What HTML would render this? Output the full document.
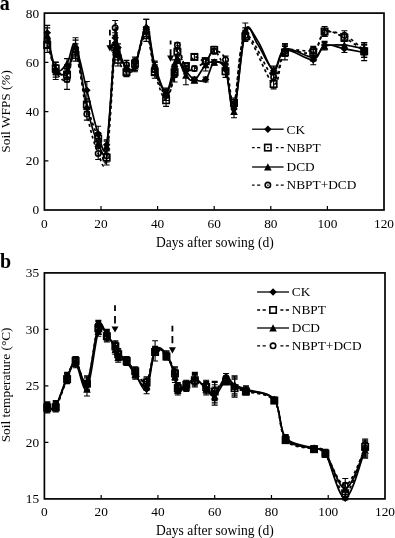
<!DOCTYPE html>
<html><head><meta charset="utf-8"><title>Figure</title>
<style>
html,body{margin:0;padding:0;background:#fff;}
svg{display:block;font-family:"Liberation Serif","Times New Roman",serif;fill:#000;}
</style></head><body>
<svg width="395" height="538" viewBox="0 0 395 538">
<rect x="0" y="0" width="395" height="538" fill="#fff"/>
<rect x="44.40" y="13.10" width="339.60" height="196.90" fill="none" stroke="#000" stroke-width="1.7"/>
<text x="44.40" y="228.00" text-anchor="middle" font-size="13.33">0</text>
<text x="101.00" y="228.00" text-anchor="middle" font-size="13.33">20</text>
<text x="157.60" y="228.00" text-anchor="middle" font-size="13.33">40</text>
<text x="214.20" y="228.00" text-anchor="middle" font-size="13.33">60</text>
<text x="270.80" y="228.00" text-anchor="middle" font-size="13.33">80</text>
<text x="327.40" y="228.00" text-anchor="middle" font-size="13.33">100</text>
<text x="384.00" y="228.00" text-anchor="middle" font-size="13.33">120</text>
<text x="39.10" y="214.40" text-anchor="end" font-size="13.33">0</text>
<text x="39.10" y="165.18" text-anchor="end" font-size="13.33">20</text>
<text x="39.10" y="115.95" text-anchor="end" font-size="13.33">40</text>
<text x="39.10" y="66.72" text-anchor="end" font-size="13.33">60</text>
<text x="39.10" y="17.50" text-anchor="end" font-size="13.33">80</text>
<path d="M101.00,210.00V206.00M157.60,210.00V206.00M214.20,210.00V206.00M270.80,210.00V206.00M327.40,210.00V206.00M44.40,160.78H48.40M44.40,111.55H48.40M44.40,62.32H48.40" stroke="#000" stroke-width="1.2" fill="none"/>
<path d="M47.23,32.79 C48.64,38.94 52.42,63.15 55.72,69.71 C59.02,76.27 63.74,75.86 67.04,72.17 C70.34,68.48 72.23,44.56 75.53,47.56 C78.83,50.55 83.08,75.78 86.85,90.14 C90.62,104.49 94.87,124.59 98.17,133.70 C101.47,142.81 103.83,160.78 106.66,144.78 C109.49,128.78 113.26,53.92 115.15,37.71 C117.04,21.51 116.09,42.22 117.98,47.56 C119.87,52.89 123.64,66.43 126.47,69.71 C129.30,72.99 131.66,74.22 134.96,67.25 C138.26,60.27 142.98,27.87 146.28,27.87 C149.58,27.87 151.47,56.38 154.77,67.25 C158.07,78.12 162.79,92.68 166.09,93.09 C169.39,93.50 172.69,75.25 174.58,69.71 C176.47,64.17 175.52,59.66 177.41,59.86 C179.30,60.07 183.07,67.66 185.90,70.94 C188.73,74.22 191.09,78.12 194.39,79.55 C197.69,80.99 202.41,82.43 205.71,79.55 C209.01,76.68 210.90,63.97 214.20,62.32 C217.50,60.68 222.22,61.91 225.52,69.71 C228.82,77.50 230.71,115.24 234.01,109.09 C237.31,102.94 241.37,44.15 245.33,32.79 C249.29,21.43 253.07,34.59 257.78,40.91 C262.50,47.23 269.10,69.18 273.63,70.69 C278.16,72.21 278.35,51.82 284.95,50.02 C291.55,48.21 306.65,60.68 313.25,59.86 C319.85,59.04 319.38,46.94 324.57,45.10 C329.76,43.25 337.78,47.56 344.38,48.79 C350.98,50.02 360.89,51.86 364.19,52.48" fill="none" stroke="#000" stroke-width="1.7"/>
<path d="M47.23,25.41V40.17M44.23,25.41H50.23M44.23,40.17H50.23M55.72,62.32V77.09M52.72,62.32H58.72M52.72,77.09H58.72M67.04,64.79V79.55M64.04,64.79H70.04M64.04,79.55H70.04M75.53,40.17V54.94M72.53,40.17H78.53M72.53,54.94H78.53M86.85,81.52V98.75M83.85,81.52H89.85M83.85,98.75H89.85M98.17,126.32V141.09M95.17,126.32H101.17M95.17,141.09H101.17M106.66,139.85V149.70M103.66,139.85H109.66M103.66,149.70H109.66M115.15,32.79V42.63M112.15,32.79H118.15M112.15,42.63H118.15M117.98,43.87V51.25M114.98,43.87H120.98M114.98,51.25H120.98M126.47,65.28V74.14M123.47,65.28H129.47M123.47,74.14H129.47M134.96,62.82V71.68M131.96,62.82H137.96M131.96,71.68H137.96M146.28,19.25V36.48M143.28,19.25H149.28M143.28,36.48H149.28M154.77,62.33V72.17M151.77,62.33H157.77M151.77,72.17H157.77M166.09,89.40V96.78M163.09,89.40H169.09M163.09,96.78H169.09M174.58,64.79V74.63M171.58,64.79H177.58M171.58,74.63H177.58M177.41,56.17V63.56M174.41,56.17H180.41M174.41,63.56H180.41M185.90,67.99V73.89M182.90,67.99H188.90M182.90,73.89H188.90M194.39,77.09V82.01M191.39,77.09H197.39M191.39,82.01H197.39M205.71,77.09V82.01M202.71,77.09H208.71M202.71,82.01H208.71M214.20,59.86V64.79M211.20,59.86H217.20M211.20,64.79H217.20M225.52,64.79V74.63M222.52,64.79H228.52M222.52,74.63H228.52M234.01,104.17V114.01M231.01,104.17H237.01M231.01,114.01H237.01M245.33,27.87V37.71M242.33,27.87H248.33M242.33,37.71H248.33M273.63,67.00V74.39M270.63,67.00H276.63M270.63,74.39H276.63M284.95,43.87V56.17M281.95,43.87H287.95M281.95,56.17H287.95M313.25,54.94V64.79M310.25,54.94H316.25M310.25,64.79H316.25M324.57,41.40V48.79M321.57,41.40H327.57M321.57,48.79H327.57M344.38,45.10V52.48M341.38,45.10H347.38M341.38,52.48H347.38M364.19,44.36V60.60M361.19,44.36H367.19M361.19,60.60H367.19" fill="none" stroke="#000" stroke-width="1.1"/>
<path d="M47.23,29.04 L50.98,32.79 L47.23,36.54 L43.48,32.79 Z" fill="#000"/>
<path d="M55.72,65.96 L59.47,69.71 L55.72,73.46 L51.97,69.71 Z" fill="#000"/>
<path d="M67.04,68.42 L70.79,72.17 L67.04,75.92 L63.29,72.17 Z" fill="#000"/>
<path d="M75.53,43.81 L79.28,47.56 L75.53,51.31 L71.78,47.56 Z" fill="#000"/>
<path d="M86.85,86.39 L90.60,90.14 L86.85,93.89 L83.10,90.14 Z" fill="#000"/>
<path d="M98.17,129.95 L101.92,133.70 L98.17,137.45 L94.42,133.70 Z" fill="#000"/>
<path d="M106.66,141.03 L110.41,144.78 L106.66,148.53 L102.91,144.78 Z" fill="#000"/>
<path d="M115.15,33.96 L118.90,37.71 L115.15,41.46 L111.40,37.71 Z" fill="#000"/>
<path d="M117.98,43.81 L121.73,47.56 L117.98,51.31 L114.23,47.56 Z" fill="#000"/>
<path d="M126.47,65.96 L130.22,69.71 L126.47,73.46 L122.72,69.71 Z" fill="#000"/>
<path d="M134.96,63.50 L138.71,67.25 L134.96,71.00 L131.21,67.25 Z" fill="#000"/>
<path d="M146.28,24.12 L150.03,27.87 L146.28,31.62 L142.53,27.87 Z" fill="#000"/>
<path d="M154.77,63.50 L158.52,67.25 L154.77,71.00 L151.02,67.25 Z" fill="#000"/>
<path d="M166.09,89.34 L169.84,93.09 L166.09,96.84 L162.34,93.09 Z" fill="#000"/>
<path d="M174.58,65.96 L178.33,69.71 L174.58,73.46 L170.83,69.71 Z" fill="#000"/>
<path d="M177.41,56.11 L181.16,59.86 L177.41,63.61 L173.66,59.86 Z" fill="#000"/>
<path d="M185.90,67.19 L189.65,70.94 L185.90,74.69 L182.15,70.94 Z" fill="#000"/>
<path d="M194.39,75.80 L198.14,79.55 L194.39,83.30 L190.64,79.55 Z" fill="#000"/>
<path d="M205.71,75.80 L209.46,79.55 L205.71,83.30 L201.96,79.55 Z" fill="#000"/>
<path d="M214.20,58.57 L217.95,62.32 L214.20,66.07 L210.45,62.32 Z" fill="#000"/>
<path d="M225.52,65.96 L229.27,69.71 L225.52,73.46 L221.77,69.71 Z" fill="#000"/>
<path d="M234.01,105.34 L237.76,109.09 L234.01,112.84 L230.26,109.09 Z" fill="#000"/>
<path d="M245.33,29.04 L249.08,32.79 L245.33,36.54 L241.58,32.79 Z" fill="#000"/>
<path d="M273.63,66.94 L277.38,70.69 L273.63,74.44 L269.88,70.69 Z" fill="#000"/>
<path d="M284.95,46.27 L288.70,50.02 L284.95,53.77 L281.20,50.02 Z" fill="#000"/>
<path d="M313.25,56.11 L317.00,59.86 L313.25,63.61 L309.50,59.86 Z" fill="#000"/>
<path d="M324.57,41.35 L328.32,45.10 L324.57,48.85 L320.82,45.10 Z" fill="#000"/>
<path d="M344.38,45.04 L348.13,48.79 L344.38,52.54 L340.63,48.79 Z" fill="#000"/>
<path d="M364.19,48.73 L367.94,52.48 L364.19,56.23 L360.44,52.48 Z" fill="#000"/>
<path d="M47.23,45.10 C48.64,48.99 52.42,63.56 55.72,68.48 C59.02,73.40 63.74,76.89 67.04,74.63 C70.34,72.38 72.23,49.94 75.53,54.94 C78.83,59.95 83.08,90.71 86.85,104.66 C90.62,118.61 94.87,129.80 98.17,138.62 C101.47,147.44 103.83,172.75 106.66,157.58 C109.49,142.40 113.26,63.84 115.15,47.56 C117.04,31.27 116.09,55.76 117.98,59.86 C119.87,63.97 123.64,71.55 126.47,72.17 C129.30,72.79 131.66,69.71 134.96,63.56 C138.26,57.40 142.98,33.82 146.28,35.25 C149.58,36.69 151.47,61.34 154.77,72.17 C158.07,83.00 162.79,100.23 166.09,100.23 C169.39,100.23 172.69,80.25 174.58,72.17 C176.47,64.09 175.52,52.77 177.41,51.74 C179.30,50.72 183.07,65.16 185.90,66.02 C188.73,66.88 191.09,57.73 194.39,56.91 C197.69,56.09 202.41,62.24 205.71,61.09 C209.01,59.95 210.90,48.34 214.20,50.02 C217.50,51.70 222.22,62.37 225.52,71.19 C228.82,80.00 230.71,108.72 234.01,102.94 C237.31,97.15 238.73,39.64 245.33,36.48 C251.93,33.32 267.03,81.32 273.63,83.98 C280.23,86.65 278.35,57.73 284.95,52.48 C291.55,47.23 306.65,55.97 313.25,52.48 C319.85,48.99 319.38,34.02 324.57,31.56 C329.76,29.10 337.78,34.43 344.38,37.71 C350.98,40.99 360.89,48.99 364.19,51.25" fill="none" stroke="#000" stroke-width="1.7" stroke-dasharray="3,3"/>
<path d="M47.23,37.71V52.48M44.23,37.71H50.23M44.23,52.48H50.23M55.72,62.32V74.63M52.72,62.32H58.72M52.72,74.63H58.72M67.04,67.25V82.02M64.04,67.25H70.04M64.04,82.02H70.04M75.53,48.79V61.09M72.53,48.79H78.53M72.53,61.09H78.53M86.85,99.74V109.58M83.85,99.74H89.85M83.85,109.58H89.85M98.17,132.47V144.78M95.17,132.47H101.17M95.17,144.78H101.17M106.66,150.19V164.96M103.66,150.19H109.66M103.66,164.96H109.66M115.15,42.63V52.48M112.15,42.63H118.15M112.15,52.48H118.15M117.98,53.71V66.02M114.98,53.71H120.98M114.98,66.02H120.98M126.47,67.74V76.60M123.47,67.74H129.47M123.47,76.60H129.47M134.96,59.13V67.99M131.96,59.13H137.96M131.96,67.99H137.96M146.28,29.10V41.40M143.28,29.10H149.28M143.28,41.40H149.28M154.77,66.02V78.32M151.77,66.02H157.77M151.77,78.32H157.77M166.09,94.08V106.38M163.09,94.08H169.09M163.09,106.38H169.09M174.58,67.25V77.09M171.58,67.25H177.58M171.58,77.09H177.58M177.41,49.28V54.20M174.41,49.28H180.41M174.41,54.20H180.41M185.90,63.56V68.48M182.90,63.56H188.90M182.90,68.48H188.90M194.39,54.45V59.37M191.39,54.45H197.39M191.39,59.37H197.39M205.71,58.63V63.56M202.71,58.63H208.71M202.71,63.56H208.71M214.20,46.33V53.71M211.20,46.33H217.20M211.20,53.71H217.20M225.52,65.03V77.34M222.52,65.03H228.52M222.52,77.34H228.52M234.01,98.01V107.86M231.01,98.01H237.01M231.01,107.86H237.01M245.33,31.56V41.40M242.33,31.56H248.33M242.33,41.40H248.33M273.63,79.06V88.91M270.63,79.06H276.63M270.63,88.91H276.63M284.95,45.10V59.86M281.95,45.10H287.95M281.95,59.86H287.95M313.25,47.56V57.40M310.25,47.56H316.25M310.25,57.40H316.25M324.57,26.64V36.48M321.57,26.64H327.57M321.57,36.48H327.57M344.38,34.02V41.40M341.38,34.02H347.38M341.38,41.40H347.38M364.19,45.10V57.40M361.19,45.10H367.19M361.19,57.40H367.19" fill="none" stroke="#000" stroke-width="1.1"/>
<rect x="44.03" y="41.90" width="6.40" height="6.40" fill="none" stroke="#000" stroke-width="1.6"/>
<rect x="52.52" y="65.28" width="6.40" height="6.40" fill="none" stroke="#000" stroke-width="1.6"/>
<rect x="63.84" y="71.43" width="6.40" height="6.40" fill="none" stroke="#000" stroke-width="1.6"/>
<rect x="72.33" y="51.74" width="6.40" height="6.40" fill="none" stroke="#000" stroke-width="1.6"/>
<rect x="83.65" y="101.46" width="6.40" height="6.40" fill="none" stroke="#000" stroke-width="1.6"/>
<rect x="94.97" y="135.42" width="6.40" height="6.40" fill="none" stroke="#000" stroke-width="1.6"/>
<rect x="103.46" y="154.38" width="6.40" height="6.40" fill="none" stroke="#000" stroke-width="1.6"/>
<rect x="111.95" y="44.36" width="6.40" height="6.40" fill="none" stroke="#000" stroke-width="1.6"/>
<rect x="114.78" y="56.66" width="6.40" height="6.40" fill="none" stroke="#000" stroke-width="1.6"/>
<rect x="123.27" y="68.97" width="6.40" height="6.40" fill="none" stroke="#000" stroke-width="1.6"/>
<rect x="131.76" y="60.36" width="6.40" height="6.40" fill="none" stroke="#000" stroke-width="1.6"/>
<rect x="143.08" y="32.05" width="6.40" height="6.40" fill="none" stroke="#000" stroke-width="1.6"/>
<rect x="151.57" y="68.97" width="6.40" height="6.40" fill="none" stroke="#000" stroke-width="1.6"/>
<rect x="162.89" y="97.03" width="6.40" height="6.40" fill="none" stroke="#000" stroke-width="1.6"/>
<rect x="171.38" y="68.97" width="6.40" height="6.40" fill="none" stroke="#000" stroke-width="1.6"/>
<rect x="174.21" y="48.54" width="6.40" height="6.40" fill="none" stroke="#000" stroke-width="1.6"/>
<rect x="182.70" y="62.82" width="6.40" height="6.40" fill="none" stroke="#000" stroke-width="1.6"/>
<rect x="191.19" y="53.71" width="6.40" height="6.40" fill="none" stroke="#000" stroke-width="1.6"/>
<rect x="202.51" y="57.89" width="6.40" height="6.40" fill="none" stroke="#000" stroke-width="1.6"/>
<rect x="211.00" y="46.82" width="6.40" height="6.40" fill="none" stroke="#000" stroke-width="1.6"/>
<rect x="222.32" y="67.99" width="6.40" height="6.40" fill="none" stroke="#000" stroke-width="1.6"/>
<rect x="230.81" y="99.74" width="6.40" height="6.40" fill="none" stroke="#000" stroke-width="1.6"/>
<rect x="242.13" y="33.28" width="6.40" height="6.40" fill="none" stroke="#000" stroke-width="1.6"/>
<rect x="270.43" y="80.78" width="6.40" height="6.40" fill="none" stroke="#000" stroke-width="1.6"/>
<rect x="281.75" y="49.28" width="6.40" height="6.40" fill="none" stroke="#000" stroke-width="1.6"/>
<rect x="310.05" y="49.28" width="6.40" height="6.40" fill="none" stroke="#000" stroke-width="1.6"/>
<rect x="321.37" y="28.36" width="6.40" height="6.40" fill="none" stroke="#000" stroke-width="1.6"/>
<rect x="341.18" y="34.51" width="6.40" height="6.40" fill="none" stroke="#000" stroke-width="1.6"/>
<rect x="360.99" y="48.05" width="6.40" height="6.40" fill="none" stroke="#000" stroke-width="1.6"/>
<path d="M47.23,35.25 C48.64,40.99 52.42,64.99 55.72,69.71 C59.02,74.43 63.74,67.66 67.04,63.56 C70.34,59.45 72.23,37.92 75.53,45.10 C78.83,52.27 83.08,90.22 86.85,106.63 C90.62,123.04 94.87,136.98 98.17,143.55 C101.47,150.11 103.83,162.83 106.66,146.01 C109.49,129.19 113.26,58.22 115.15,42.63 C117.04,27.05 116.09,48.38 117.98,52.48 C119.87,56.58 123.64,64.99 126.47,67.25 C129.30,69.50 131.66,72.79 134.96,66.02 C138.26,59.25 142.98,26.84 146.28,26.64 C149.58,26.43 151.47,53.92 154.77,64.79 C158.07,75.66 162.79,92.07 166.09,91.86 C169.39,91.65 172.69,69.13 174.58,63.56 C176.47,57.98 175.52,56.42 177.41,58.39 C179.30,60.36 183.07,71.72 185.90,75.37 C188.73,79.02 191.09,82.06 194.39,80.29 C197.69,78.53 202.41,67.78 205.71,64.79 C209.01,61.79 210.90,61.91 214.20,62.32 C217.50,62.74 222.22,59.04 225.52,67.25 C228.82,75.45 230.71,117.70 234.01,111.55 C237.31,105.40 241.37,41.49 245.33,30.33 C249.29,19.17 253.07,38.04 257.78,44.60 C262.50,51.17 269.10,69.01 273.63,69.71 C278.16,70.41 278.35,50.84 284.95,48.79 C291.55,46.74 306.65,57.81 313.25,57.40 C319.85,56.99 319.38,48.38 324.57,46.33 C329.76,44.28 337.78,44.69 344.38,45.10 C350.98,45.51 360.89,48.17 364.19,48.79" fill="none" stroke="#000" stroke-width="1.7"/>
<path d="M47.23,27.87V42.63M44.23,27.87H50.23M44.23,42.63H50.23M55.72,64.79V74.63M52.72,64.79H58.72M52.72,74.63H58.72M67.04,58.63V68.48M64.04,58.63H70.04M64.04,68.48H70.04M75.53,37.71V52.48M72.53,37.71H78.53M72.53,52.48H78.53M86.85,101.70V111.55M83.85,101.70H89.85M83.85,111.55H89.85M98.17,138.62V148.47M95.17,138.62H101.17M95.17,148.47H101.17M106.66,141.08V150.93M103.66,141.08H109.66M103.66,150.93H109.66M115.15,37.71V47.56M112.15,37.71H118.15M112.15,47.56H118.15M117.98,48.79V56.17M114.98,48.79H120.98M114.98,56.17H120.98M126.47,62.82V71.68M123.47,62.82H129.47M123.47,71.68H129.47M134.96,61.59V70.45M131.96,61.59H137.96M131.96,70.45H137.96M146.28,19.25V34.02M143.28,19.25H149.28M143.28,34.02H149.28M154.77,61.09V68.48M151.77,61.09H157.77M151.77,68.48H157.77M166.09,88.17V95.55M163.09,88.17H169.09M163.09,95.55H169.09M174.58,59.86V67.25M171.58,59.86H177.58M171.58,67.25H177.58M177.41,54.70V62.08M174.41,54.70H180.41M174.41,62.08H180.41M185.90,66.02V84.72M182.90,66.02H188.90M182.90,84.72H188.90M194.39,77.83V82.75M191.39,77.83H197.39M191.39,82.75H197.39M205.71,58.63V70.94M202.71,58.63H208.71M202.71,70.94H208.71M214.20,59.86V64.79M211.20,59.86H217.20M211.20,64.79H217.20M225.52,64.79V69.71M222.52,64.79H228.52M222.52,69.71H228.52M234.01,105.40V117.70M231.01,105.40H237.01M231.01,117.70H237.01M245.33,22.94V37.71M242.33,22.94H248.33M242.33,37.71H248.33M273.63,66.02V73.40M270.63,66.02H276.63M270.63,73.40H276.63M284.95,43.87V53.71M281.95,43.87H287.95M281.95,53.71H287.95M313.25,53.71V61.09M310.25,53.71H316.25M310.25,61.09H316.25M324.57,42.63V50.02M321.57,42.63H327.57M321.57,50.02H327.57M344.38,41.40V48.79M341.38,41.40H347.38M341.38,48.79H347.38M364.19,42.63V54.94M361.19,42.63H367.19M361.19,54.94H367.19" fill="none" stroke="#000" stroke-width="1.1"/>
<path d="M47.23,31.45 L51.03,38.67 L43.43,38.67 Z" fill="#000"/>
<path d="M55.72,65.91 L59.52,73.13 L51.92,73.13 Z" fill="#000"/>
<path d="M67.04,59.76 L70.84,66.98 L63.24,66.98 Z" fill="#000"/>
<path d="M75.53,41.30 L79.33,48.52 L71.73,48.52 Z" fill="#000"/>
<path d="M86.85,102.83 L90.65,110.05 L83.05,110.05 Z" fill="#000"/>
<path d="M98.17,139.75 L101.97,146.97 L94.37,146.97 Z" fill="#000"/>
<path d="M106.66,142.21 L110.46,149.43 L102.86,149.43 Z" fill="#000"/>
<path d="M115.15,38.83 L118.95,46.05 L111.35,46.05 Z" fill="#000"/>
<path d="M117.98,48.68 L121.78,55.90 L114.18,55.90 Z" fill="#000"/>
<path d="M126.47,63.45 L130.27,70.67 L122.67,70.67 Z" fill="#000"/>
<path d="M134.96,62.22 L138.76,69.44 L131.16,69.44 Z" fill="#000"/>
<path d="M146.28,22.84 L150.08,30.06 L142.48,30.06 Z" fill="#000"/>
<path d="M154.77,60.99 L158.57,68.21 L150.97,68.21 Z" fill="#000"/>
<path d="M166.09,88.06 L169.89,95.28 L162.29,95.28 Z" fill="#000"/>
<path d="M174.58,59.76 L178.38,66.98 L170.78,66.98 Z" fill="#000"/>
<path d="M177.41,54.59 L181.21,61.81 L173.61,61.81 Z" fill="#000"/>
<path d="M185.90,71.57 L189.70,78.79 L182.10,78.79 Z" fill="#000"/>
<path d="M194.39,76.49 L198.19,83.71 L190.59,83.71 Z" fill="#000"/>
<path d="M205.71,60.99 L209.51,68.21 L201.91,68.21 Z" fill="#000"/>
<path d="M214.20,58.52 L218.00,65.74 L210.40,65.74 Z" fill="#000"/>
<path d="M225.52,63.45 L229.32,70.67 L221.72,70.67 Z" fill="#000"/>
<path d="M234.01,107.75 L237.81,114.97 L230.21,114.97 Z" fill="#000"/>
<path d="M245.33,26.53 L249.13,33.75 L241.53,33.75 Z" fill="#000"/>
<path d="M273.63,65.91 L277.43,73.13 L269.83,73.13 Z" fill="#000"/>
<path d="M284.95,44.99 L288.75,52.21 L281.15,52.21 Z" fill="#000"/>
<path d="M313.25,53.60 L317.05,60.82 L309.45,60.82 Z" fill="#000"/>
<path d="M324.57,42.53 L328.37,49.75 L320.77,49.75 Z" fill="#000"/>
<path d="M344.38,41.30 L348.18,48.52 L340.58,48.52 Z" fill="#000"/>
<path d="M364.19,44.99 L367.99,52.21 L360.39,52.21 Z" fill="#000"/>
<path d="M47.23,40.17 C48.64,45.30 52.42,64.38 55.72,70.94 C59.02,77.50 63.74,83.04 67.04,79.55 C70.34,76.07 72.23,44.28 75.53,50.02 C78.83,55.76 83.08,96.78 86.85,114.01 C90.62,131.24 94.87,146.42 98.17,153.39 C101.47,160.36 103.83,176.77 106.66,155.85 C109.49,134.93 113.26,44.69 115.15,27.87 C117.04,11.05 116.09,48.79 117.98,54.94 C119.87,61.09 123.64,63.68 126.47,64.79 C129.30,65.89 131.66,67.12 134.96,61.59 C138.26,56.05 142.98,30.21 146.28,31.56 C149.58,32.91 151.47,59.04 154.77,69.71 C158.07,80.37 162.79,94.73 166.09,95.55 C169.39,96.37 172.69,83.04 174.58,74.63 C176.47,66.22 175.52,46.12 177.41,45.10 C179.30,44.07 183.07,64.58 185.90,68.48 C188.73,72.38 191.09,69.71 194.39,68.48 C197.69,67.25 202.41,63.97 205.71,61.09 C209.01,58.22 210.90,51.45 214.20,51.25 C217.50,51.04 222.22,51.04 225.52,59.86 C228.82,68.68 230.71,108.27 234.01,104.17 C237.31,100.06 238.73,39.76 245.33,35.25 C251.93,30.74 267.03,74.43 273.63,77.09 C280.23,79.76 278.35,55.76 284.95,51.25 C291.55,46.74 306.65,53.10 313.25,50.02 C319.85,46.94 319.38,35.25 324.57,32.79 C329.76,30.33 337.78,32.38 344.38,35.25 C350.98,38.12 360.89,47.56 364.19,50.02" fill="none" stroke="#000" stroke-width="1.7" stroke-dasharray="3,3"/>
<path d="M47.23,32.79V47.56M44.23,32.79H50.23M44.23,47.56H50.23M55.72,62.32V79.55M52.72,62.32H58.72M52.72,79.55H58.72M67.04,69.71V89.40M64.04,69.71H70.04M64.04,89.40H70.04M75.53,43.87V56.17M72.53,43.87H78.53M72.53,56.17H78.53M86.85,107.86V120.16M83.85,107.86H89.85M83.85,120.16H89.85M98.17,147.24V159.54M95.17,147.24H101.17M95.17,159.54H101.17M106.66,149.70V162.01M103.66,149.70H109.66M103.66,162.01H109.66M115.15,20.48V35.25M112.15,20.48H118.15M112.15,35.25H118.15M117.98,50.02V59.86M114.98,50.02H120.98M114.98,59.86H120.98M126.47,60.36V69.22M123.47,60.36H129.47M123.47,69.22H129.47M134.96,57.16V66.02M131.96,57.16H137.96M131.96,66.02H137.96M146.28,26.64V36.48M143.28,26.64H149.28M143.28,36.48H149.28M154.77,64.79V74.63M151.77,64.79H157.77M151.77,74.63H157.77M166.09,90.63V100.47M163.09,90.63H169.09M163.09,100.47H169.09M174.58,67.25V82.02M171.58,67.25H177.58M171.58,82.02H177.58M177.41,42.63V47.56M174.41,42.63H180.41M174.41,47.56H180.41M185.90,66.02V70.94M182.90,66.02H188.90M182.90,70.94H188.90M194.39,66.02V70.94M191.39,66.02H197.39M191.39,70.94H197.39M205.71,58.63V63.56M202.71,58.63H208.71M202.71,63.56H208.71M214.20,48.79V53.71M211.20,48.79H217.20M211.20,53.71H217.20M225.52,56.17V63.56M222.52,56.17H228.52M222.52,63.56H228.52M234.01,99.24V109.09M231.01,99.24H237.01M231.01,109.09H237.01M245.33,30.33V40.17M242.33,30.33H248.33M242.33,40.17H248.33M273.63,73.40V80.78M270.63,73.40H276.63M270.63,80.78H276.63M284.95,46.33V56.17M281.95,46.33H287.95M281.95,56.17H287.95M313.25,46.33V53.71M310.25,46.33H316.25M310.25,53.71H316.25M324.57,29.10V36.48M321.57,29.10H327.57M321.57,36.48H327.57M344.38,30.82V39.68M341.38,30.82H347.38M341.38,39.68H347.38M364.19,42.63V57.40M361.19,42.63H367.19M361.19,57.40H367.19" fill="none" stroke="#000" stroke-width="1.1"/>
<circle cx="47.23" cy="40.17" r="2.70" fill="none" stroke="#000" stroke-width="1.6"/>
<circle cx="55.72" cy="70.94" r="2.70" fill="none" stroke="#000" stroke-width="1.6"/>
<circle cx="67.04" cy="79.55" r="2.70" fill="none" stroke="#000" stroke-width="1.6"/>
<circle cx="75.53" cy="50.02" r="2.70" fill="none" stroke="#000" stroke-width="1.6"/>
<circle cx="86.85" cy="114.01" r="2.70" fill="none" stroke="#000" stroke-width="1.6"/>
<circle cx="98.17" cy="153.39" r="2.70" fill="none" stroke="#000" stroke-width="1.6"/>
<circle cx="106.66" cy="155.85" r="2.70" fill="none" stroke="#000" stroke-width="1.6"/>
<circle cx="115.15" cy="27.87" r="2.70" fill="none" stroke="#000" stroke-width="1.6"/>
<circle cx="117.98" cy="54.94" r="2.70" fill="none" stroke="#000" stroke-width="1.6"/>
<circle cx="126.47" cy="64.79" r="2.70" fill="none" stroke="#000" stroke-width="1.6"/>
<circle cx="134.96" cy="61.59" r="2.70" fill="none" stroke="#000" stroke-width="1.6"/>
<circle cx="146.28" cy="31.56" r="2.70" fill="none" stroke="#000" stroke-width="1.6"/>
<circle cx="154.77" cy="69.71" r="2.70" fill="none" stroke="#000" stroke-width="1.6"/>
<circle cx="166.09" cy="95.55" r="2.70" fill="none" stroke="#000" stroke-width="1.6"/>
<circle cx="174.58" cy="74.63" r="2.70" fill="none" stroke="#000" stroke-width="1.6"/>
<circle cx="177.41" cy="45.10" r="2.70" fill="none" stroke="#000" stroke-width="1.6"/>
<circle cx="185.90" cy="68.48" r="2.70" fill="none" stroke="#000" stroke-width="1.6"/>
<circle cx="194.39" cy="68.48" r="2.70" fill="none" stroke="#000" stroke-width="1.6"/>
<circle cx="205.71" cy="61.09" r="2.70" fill="none" stroke="#000" stroke-width="1.6"/>
<circle cx="214.20" cy="51.25" r="2.70" fill="none" stroke="#000" stroke-width="1.6"/>
<circle cx="225.52" cy="59.86" r="2.70" fill="none" stroke="#000" stroke-width="1.6"/>
<circle cx="234.01" cy="104.17" r="2.70" fill="none" stroke="#000" stroke-width="1.6"/>
<circle cx="245.33" cy="35.25" r="2.70" fill="none" stroke="#000" stroke-width="1.6"/>
<circle cx="273.63" cy="77.09" r="2.70" fill="none" stroke="#000" stroke-width="1.6"/>
<circle cx="284.95" cy="51.25" r="2.70" fill="none" stroke="#000" stroke-width="1.6"/>
<circle cx="313.25" cy="50.02" r="2.70" fill="none" stroke="#000" stroke-width="1.6"/>
<circle cx="324.57" cy="32.79" r="2.70" fill="none" stroke="#000" stroke-width="1.6"/>
<circle cx="344.38" cy="35.25" r="2.70" fill="none" stroke="#000" stroke-width="1.6"/>
<circle cx="364.19" cy="50.02" r="2.70" fill="none" stroke="#000" stroke-width="1.6"/>
<path d="M109.90,29.80V35.50M109.90,40.00V45.90" stroke="#000" stroke-width="1.8" fill="none"/>
<path d="M106.40,45.20 L113.40,45.20 L109.90,51.40 Z" fill="#000"/>
<path d="M170.60,40.50V44.60M170.60,49.20V56.20" stroke="#000" stroke-width="1.8" fill="none"/>
<path d="M167.10,55.50 L174.10,55.50 L170.60,61.70 Z" fill="#000"/>
<path d="M252.10,129.20H283.60" stroke="#000" stroke-width="1.3"/>
<path d="M267.85,125.45 L271.60,129.20 L267.85,132.95 L264.10,129.20 Z" fill="#000"/>
<text x="286.60" y="133.50" font-size="13.33">CK</text>
<path d="M252.10,147.60H254.60M257.10,147.60H260.20M267.10,147.60H268.70M276.00,147.60H278.40M280.80,147.60H283.70" stroke="#000" stroke-width="1.3" fill="none"/>
<rect x="264.65" y="144.40" width="6.40" height="6.40" fill="none" stroke="#000" stroke-width="1.6"/>
<text x="286.60" y="151.90" font-size="13.33">NBPT</text>
<path d="M252.10,167.00H283.60" stroke="#000" stroke-width="1.3"/>
<path d="M267.85,163.20 L271.65,170.42 L264.05,170.42 Z" fill="#000"/>
<text x="286.60" y="171.30" font-size="13.33">DCD</text>
<path d="M252.10,185.10H254.60M257.10,185.10H260.20M267.10,185.10H268.70M276.00,185.10H278.40M280.80,185.10H283.70" stroke="#000" stroke-width="1.3" fill="none"/>
<circle cx="267.85" cy="185.10" r="2.70" fill="none" stroke="#000" stroke-width="1.6"/>
<text x="286.60" y="189.40" font-size="13.33">NBPT+DCD</text>
<text x="214.9" y="247.3" text-anchor="middle" font-size="13.55">Days after sowing (d)</text>
<text transform="translate(9.8,111.3) rotate(-90)" text-anchor="middle" font-size="13.33">Soil WFPS (<tspan font-style="italic">%</tspan>)</text>
<text x="-0.3" y="9.5" font-size="20" font-weight="bold">a</text>
<rect x="44.40" y="272.90" width="340.60" height="226.00" fill="none" stroke="#000" stroke-width="1.7"/>
<text x="44.40" y="516.40" text-anchor="middle" font-size="13.33">0</text>
<text x="101.17" y="516.40" text-anchor="middle" font-size="13.33">20</text>
<text x="157.93" y="516.40" text-anchor="middle" font-size="13.33">40</text>
<text x="214.70" y="516.40" text-anchor="middle" font-size="13.33">60</text>
<text x="271.47" y="516.40" text-anchor="middle" font-size="13.33">80</text>
<text x="328.23" y="516.40" text-anchor="middle" font-size="13.33">100</text>
<text x="385.00" y="516.40" text-anchor="middle" font-size="13.33">120</text>
<text x="39.10" y="503.30" text-anchor="end" font-size="13.33">15</text>
<text x="39.10" y="446.80" text-anchor="end" font-size="13.33">20</text>
<text x="39.10" y="390.30" text-anchor="end" font-size="13.33">25</text>
<text x="39.10" y="333.80" text-anchor="end" font-size="13.33">30</text>
<text x="39.10" y="277.30" text-anchor="end" font-size="13.33">35</text>
<path d="M101.17,498.90V494.90M157.93,498.90V494.90M214.70,498.90V494.90M271.47,498.90V494.90M328.23,498.90V494.90M44.40,442.40H48.40M44.40,385.90H48.40M44.40,329.40H48.40" stroke="#000" stroke-width="1.2" fill="none"/>
<path d="M47.24,407.37 C48.66,407.18 52.44,411.14 55.75,406.24 C59.06,401.34 63.80,385.34 67.11,377.99 C70.42,370.64 72.31,361.42 75.62,362.17 C78.93,362.92 83.19,388.54 86.97,382.51 C90.76,376.48 95.02,333.92 98.33,326.01 C101.64,318.10 104.00,331.47 106.84,335.05 C109.68,338.63 113.47,344.09 115.36,347.48 C117.25,350.87 116.30,353.13 118.20,355.39 C120.09,357.65 123.87,358.03 126.71,361.04 C129.55,364.05 131.92,368.76 135.23,373.47 C138.54,378.18 143.27,393.06 146.58,389.29 C149.89,385.52 151.78,356.52 155.09,350.87 C158.41,345.22 163.14,351.44 166.45,355.39 C169.76,359.34 173.07,368.95 174.96,374.60 C176.86,380.25 175.91,387.41 177.80,389.29 C179.69,391.17 183.48,387.59 186.32,385.90 C189.16,384.20 191.52,378.74 194.83,379.12 C198.14,379.50 202.87,385.71 206.19,388.16 C209.50,390.61 211.39,395.69 214.70,393.81 C218.01,391.93 222.74,378.18 226.05,376.86 C229.36,375.54 231.26,383.64 234.57,385.90 C237.88,388.16 239.30,388.16 245.92,390.42 C252.54,392.68 267.68,391.36 274.31,399.46 C280.93,407.56 279.04,430.82 285.66,439.01 C292.28,447.20 307.42,446.26 314.04,448.62 C320.66,450.97 320.19,444.85 325.39,453.13 C330.60,461.42 338.64,498.99 345.26,498.33 C351.89,497.68 361.82,457.37 365.13,449.18" fill="none" stroke="#000" stroke-width="1.7"/>
<path d="M47.24,402.85V411.89M44.24,402.85H50.24M44.24,411.89H50.24M55.75,401.72V410.76M52.75,401.72H58.75M52.75,410.76H58.75M67.11,373.47V382.51M64.11,373.47H70.11M64.11,382.51H70.11M75.62,357.65V366.69M72.62,357.65H78.62M72.62,366.69H78.62M86.97,375.73V389.29M83.97,375.73H89.97M83.97,389.29H89.97M98.33,321.49V330.53M95.33,321.49H101.33M95.33,330.53H101.33M106.84,330.53V339.57M103.84,330.53H109.84M103.84,339.57H109.84M115.36,342.96V352.00M112.36,342.96H118.36M112.36,352.00H118.36M118.20,350.87V359.91M115.20,350.87H121.20M115.20,359.91H121.20M126.71,357.65V364.43M123.71,357.65H129.71M123.71,364.43H129.71M135.23,368.95V377.99M132.23,368.95H138.23M132.23,377.99H138.23M146.58,384.77V393.81M143.58,384.77H149.58M143.58,393.81H149.58M155.09,340.70V361.04M152.09,340.70H158.09M152.09,361.04H158.09M166.45,352.00V358.78M163.45,352.00H169.45M163.45,358.78H169.45M174.96,368.95V380.25M171.96,368.95H177.96M171.96,380.25H177.96M177.80,384.77V393.81M174.80,384.77H180.80M174.80,393.81H180.80M186.32,381.38V390.42M183.32,381.38H189.32M183.32,390.42H189.32M194.83,373.47V384.77M191.83,373.47H197.83M191.83,384.77H197.83M206.19,382.51V393.81M203.19,382.51H209.19M203.19,393.81H209.19M214.70,384.77V402.85M211.70,384.77H217.70M211.70,402.85H217.70M226.05,373.47V380.25M223.05,373.47H229.05M223.05,380.25H229.05M234.57,376.86V394.94M231.57,376.86H237.57M231.57,394.94H237.57M245.92,387.03V393.81M242.92,387.03H248.92M242.92,393.81H248.92M274.31,397.20V401.72M271.31,397.20H277.31M271.31,401.72H277.31M285.66,435.62V442.40M282.66,435.62H288.66M282.66,442.40H288.66M314.04,446.36V450.88M311.04,446.36H317.04M311.04,450.88H317.04M325.39,449.75V456.52M322.39,449.75H328.39M322.39,456.52H328.39M345.26,496.64V500.03M342.26,496.64H348.26M342.26,500.03H348.26M365.13,441.27V457.09M362.13,441.27H368.13M362.13,457.09H368.13" fill="none" stroke="#000" stroke-width="1.1"/>
<path d="M47.24,403.62 L50.99,407.37 L47.24,411.12 L43.49,407.37 Z" fill="#000"/>
<path d="M55.75,402.49 L59.50,406.24 L55.75,409.99 L52.00,406.24 Z" fill="#000"/>
<path d="M67.11,374.24 L70.86,377.99 L67.11,381.74 L63.36,377.99 Z" fill="#000"/>
<path d="M75.62,358.42 L79.37,362.17 L75.62,365.92 L71.87,362.17 Z" fill="#000"/>
<path d="M86.97,378.76 L90.72,382.51 L86.97,386.26 L83.22,382.51 Z" fill="#000"/>
<path d="M98.33,322.26 L102.08,326.01 L98.33,329.76 L94.58,326.01 Z" fill="#000"/>
<path d="M106.84,331.30 L110.59,335.05 L106.84,338.80 L103.09,335.05 Z" fill="#000"/>
<path d="M115.36,343.73 L119.11,347.48 L115.36,351.23 L111.61,347.48 Z" fill="#000"/>
<path d="M118.20,351.64 L121.95,355.39 L118.20,359.14 L114.45,355.39 Z" fill="#000"/>
<path d="M126.71,357.29 L130.46,361.04 L126.71,364.79 L122.96,361.04 Z" fill="#000"/>
<path d="M135.23,369.72 L138.98,373.47 L135.23,377.22 L131.48,373.47 Z" fill="#000"/>
<path d="M146.58,385.54 L150.33,389.29 L146.58,393.04 L142.83,389.29 Z" fill="#000"/>
<path d="M155.09,347.12 L158.84,350.87 L155.09,354.62 L151.34,350.87 Z" fill="#000"/>
<path d="M166.45,351.64 L170.20,355.39 L166.45,359.14 L162.70,355.39 Z" fill="#000"/>
<path d="M174.96,370.85 L178.71,374.60 L174.96,378.35 L171.21,374.60 Z" fill="#000"/>
<path d="M177.80,385.54 L181.55,389.29 L177.80,393.04 L174.05,389.29 Z" fill="#000"/>
<path d="M186.32,382.15 L190.07,385.90 L186.32,389.65 L182.57,385.90 Z" fill="#000"/>
<path d="M194.83,375.37 L198.58,379.12 L194.83,382.87 L191.08,379.12 Z" fill="#000"/>
<path d="M206.19,384.41 L209.94,388.16 L206.19,391.91 L202.44,388.16 Z" fill="#000"/>
<path d="M214.70,390.06 L218.45,393.81 L214.70,397.56 L210.95,393.81 Z" fill="#000"/>
<path d="M226.05,373.11 L229.80,376.86 L226.05,380.61 L222.30,376.86 Z" fill="#000"/>
<path d="M234.57,382.15 L238.32,385.90 L234.57,389.65 L230.82,385.90 Z" fill="#000"/>
<path d="M245.92,386.67 L249.67,390.42 L245.92,394.17 L242.17,390.42 Z" fill="#000"/>
<path d="M274.31,395.71 L278.06,399.46 L274.31,403.21 L270.56,399.46 Z" fill="#000"/>
<path d="M285.66,435.26 L289.41,439.01 L285.66,442.76 L281.91,439.01 Z" fill="#000"/>
<path d="M314.04,444.87 L317.79,448.62 L314.04,452.37 L310.29,448.62 Z" fill="#000"/>
<path d="M325.39,449.38 L329.14,453.13 L325.39,456.88 L321.64,453.13 Z" fill="#000"/>
<path d="M345.26,494.58 L349.01,498.33 L345.26,502.08 L341.51,498.33 Z" fill="#000"/>
<path d="M365.13,445.43 L368.88,449.18 L365.13,452.93 L361.38,449.18 Z" fill="#000"/>
<path d="M47.24,407.37 C48.66,407.37 52.44,412.08 55.75,407.37 C59.06,402.66 63.80,386.84 67.11,379.12 C70.42,371.40 72.31,360.29 75.62,361.04 C78.93,361.79 83.19,389.10 86.97,383.64 C90.76,378.18 95.02,336.18 98.33,328.27 C101.64,320.36 104.00,333.17 106.84,336.18 C109.68,339.19 113.47,343.34 115.36,346.35 C117.25,349.36 116.30,351.81 118.20,354.26 C120.09,356.71 123.87,358.21 126.71,361.04 C129.55,363.86 131.92,367.63 135.23,371.21 C138.54,374.79 143.27,385.71 146.58,382.51 C149.89,379.31 151.78,356.33 155.09,352.00 C158.41,347.67 163.14,352.94 166.45,356.52 C169.76,360.10 173.07,368.20 174.96,373.47 C176.86,378.74 175.91,386.28 177.80,388.16 C179.69,390.04 183.48,386.09 186.32,384.77 C189.16,383.45 191.52,379.87 194.83,380.25 C198.14,380.63 202.87,385.15 206.19,387.03 C209.50,388.91 211.39,392.49 214.70,391.55 C218.01,390.61 222.74,381.94 226.05,381.38 C229.36,380.81 231.26,386.46 234.57,388.16 C237.88,389.85 239.30,389.48 245.92,391.55 C252.54,393.62 267.68,392.49 274.31,400.59 C280.93,408.69 279.04,432.04 285.66,440.14 C292.28,448.24 307.42,446.92 314.04,449.18 C320.66,451.44 320.19,446.36 325.39,453.70 C330.60,461.04 338.64,494.38 345.26,493.25 C351.89,492.12 361.82,454.64 365.13,446.92" fill="none" stroke="#000" stroke-width="1.7" stroke-dasharray="3,3"/>
<path d="M47.24,402.85V411.89M44.24,402.85H50.24M44.24,411.89H50.24M55.75,402.85V411.89M52.75,402.85H58.75M52.75,411.89H58.75M67.11,374.60V383.64M64.11,374.60H70.11M64.11,383.64H70.11M75.62,356.52V365.56M72.62,356.52H78.62M72.62,365.56H78.62M86.97,376.86V390.42M83.97,376.86H89.97M83.97,390.42H89.97M98.33,323.75V332.79M95.33,323.75H101.33M95.33,332.79H101.33M106.84,331.66V340.70M103.84,331.66H109.84M103.84,340.70H109.84M115.36,341.83V350.87M112.36,341.83H118.36M112.36,350.87H118.36M118.20,349.74V358.78M115.20,349.74H121.20M115.20,358.78H121.20M126.71,357.65V364.43M123.71,357.65H129.71M123.71,364.43H129.71M135.23,366.69V375.73M132.23,366.69H138.23M132.23,375.73H138.23M146.58,377.99V387.03M143.58,377.99H149.58M143.58,387.03H149.58M155.09,348.61V355.39M152.09,348.61H158.09M152.09,355.39H158.09M166.45,353.13V359.91M163.45,353.13H169.45M163.45,359.91H169.45M174.96,367.82V379.12M171.96,367.82H177.96M171.96,379.12H177.96M177.80,383.64V392.68M174.80,383.64H180.80M174.80,392.68H180.80M186.32,380.25V389.29M183.32,380.25H189.32M183.32,389.29H189.32M194.83,374.60V385.90M191.83,374.60H197.83M191.83,385.90H197.83M206.19,381.38V392.68M203.19,381.38H209.19M203.19,392.68H209.19M214.70,382.51V400.59M211.70,382.51H217.70M211.70,400.59H217.70M226.05,377.99V384.77M223.05,377.99H229.05M223.05,384.77H229.05M234.57,379.12V397.20M231.57,379.12H237.57M231.57,397.20H237.57M245.92,388.16V394.94M242.92,388.16H248.92M242.92,394.94H248.92M274.31,398.33V402.85M271.31,398.33H277.31M271.31,402.85H277.31M285.66,436.75V443.53M282.66,436.75H288.66M282.66,443.53H288.66M314.04,446.92V451.44M311.04,446.92H317.04M311.04,451.44H317.04M325.39,450.31V457.09M322.39,450.31H328.39M322.39,457.09H328.39M345.26,487.60V498.90M342.26,487.60H348.26M342.26,498.90H348.26M365.13,439.01V454.83M362.13,439.01H368.13M362.13,454.83H368.13" fill="none" stroke="#000" stroke-width="1.1"/>
<rect x="44.04" y="404.17" width="6.40" height="6.40" fill="none" stroke="#000" stroke-width="1.6"/>
<rect x="52.55" y="404.17" width="6.40" height="6.40" fill="none" stroke="#000" stroke-width="1.6"/>
<rect x="63.91" y="375.92" width="6.40" height="6.40" fill="none" stroke="#000" stroke-width="1.6"/>
<rect x="72.42" y="357.84" width="6.40" height="6.40" fill="none" stroke="#000" stroke-width="1.6"/>
<rect x="83.77" y="380.44" width="6.40" height="6.40" fill="none" stroke="#000" stroke-width="1.6"/>
<rect x="95.13" y="325.07" width="6.40" height="6.40" fill="none" stroke="#000" stroke-width="1.6"/>
<rect x="103.64" y="332.98" width="6.40" height="6.40" fill="none" stroke="#000" stroke-width="1.6"/>
<rect x="112.16" y="343.15" width="6.40" height="6.40" fill="none" stroke="#000" stroke-width="1.6"/>
<rect x="115.00" y="351.06" width="6.40" height="6.40" fill="none" stroke="#000" stroke-width="1.6"/>
<rect x="123.51" y="357.84" width="6.40" height="6.40" fill="none" stroke="#000" stroke-width="1.6"/>
<rect x="132.03" y="368.01" width="6.40" height="6.40" fill="none" stroke="#000" stroke-width="1.6"/>
<rect x="143.38" y="379.31" width="6.40" height="6.40" fill="none" stroke="#000" stroke-width="1.6"/>
<rect x="151.90" y="348.80" width="6.40" height="6.40" fill="none" stroke="#000" stroke-width="1.6"/>
<rect x="163.25" y="353.32" width="6.40" height="6.40" fill="none" stroke="#000" stroke-width="1.6"/>
<rect x="171.76" y="370.27" width="6.40" height="6.40" fill="none" stroke="#000" stroke-width="1.6"/>
<rect x="174.60" y="384.96" width="6.40" height="6.40" fill="none" stroke="#000" stroke-width="1.6"/>
<rect x="183.12" y="381.57" width="6.40" height="6.40" fill="none" stroke="#000" stroke-width="1.6"/>
<rect x="191.63" y="377.05" width="6.40" height="6.40" fill="none" stroke="#000" stroke-width="1.6"/>
<rect x="202.99" y="383.83" width="6.40" height="6.40" fill="none" stroke="#000" stroke-width="1.6"/>
<rect x="211.50" y="388.35" width="6.40" height="6.40" fill="none" stroke="#000" stroke-width="1.6"/>
<rect x="222.85" y="378.18" width="6.40" height="6.40" fill="none" stroke="#000" stroke-width="1.6"/>
<rect x="231.37" y="384.96" width="6.40" height="6.40" fill="none" stroke="#000" stroke-width="1.6"/>
<rect x="242.72" y="388.35" width="6.40" height="6.40" fill="none" stroke="#000" stroke-width="1.6"/>
<rect x="271.11" y="397.39" width="6.40" height="6.40" fill="none" stroke="#000" stroke-width="1.6"/>
<rect x="282.46" y="436.94" width="6.40" height="6.40" fill="none" stroke="#000" stroke-width="1.6"/>
<rect x="310.84" y="445.98" width="6.40" height="6.40" fill="none" stroke="#000" stroke-width="1.6"/>
<rect x="322.19" y="450.50" width="6.40" height="6.40" fill="none" stroke="#000" stroke-width="1.6"/>
<rect x="342.06" y="490.05" width="6.40" height="6.40" fill="none" stroke="#000" stroke-width="1.6"/>
<rect x="361.93" y="443.72" width="6.40" height="6.40" fill="none" stroke="#000" stroke-width="1.6"/>
<path d="M47.24,408.50 C48.66,408.12 52.44,411.51 55.75,406.24 C59.06,400.97 63.80,384.02 67.11,376.86 C70.42,369.70 72.31,361.23 75.62,363.30 C78.93,365.37 83.19,394.56 86.97,389.29 C90.76,384.02 95.02,340.89 98.33,331.66 C101.64,322.43 104.00,330.91 106.84,333.92 C109.68,336.93 113.47,345.79 115.36,349.74 C117.25,353.69 116.30,355.58 118.20,357.65 C120.09,359.72 123.87,359.34 126.71,362.17 C129.55,364.99 131.92,370.64 135.23,374.60 C138.54,378.55 143.27,390.04 146.58,385.90 C149.89,381.76 151.78,355.01 155.09,349.74 C158.41,344.47 163.14,349.74 166.45,354.26 C169.76,358.78 173.07,370.83 174.96,376.86 C176.86,382.89 175.91,388.72 177.80,390.42 C179.69,392.11 183.48,389.10 186.32,387.03 C189.16,384.96 191.52,377.61 194.83,377.99 C198.14,378.37 202.87,386.28 206.19,389.29 C209.50,392.30 211.39,397.58 214.70,396.07 C218.01,394.56 222.74,382.13 226.05,380.25 C229.36,378.37 231.26,383.26 234.57,384.77 C237.88,386.28 239.30,386.84 245.92,389.29 C252.54,391.74 267.68,391.36 274.31,399.46 C280.93,407.56 279.04,429.78 285.66,437.88 C292.28,445.98 307.42,445.60 314.04,448.05 C320.66,450.50 320.19,445.79 325.39,452.57 C330.60,459.35 338.64,489.11 345.26,488.73 C351.89,488.35 361.82,456.71 365.13,450.31" fill="none" stroke="#000" stroke-width="1.7"/>
<path d="M47.24,403.98V413.02M44.24,403.98H50.24M44.24,413.02H50.24M55.75,401.72V410.76M52.75,401.72H58.75M52.75,410.76H58.75M67.11,372.34V381.38M64.11,372.34H70.11M64.11,381.38H70.11M75.62,358.78V367.82M72.62,358.78H78.62M72.62,367.82H78.62M86.97,382.51V396.07M83.97,382.51H89.97M83.97,396.07H89.97M98.33,327.14V336.18M95.33,327.14H101.33M95.33,336.18H101.33M106.84,329.40V338.44M103.84,329.40H109.84M103.84,338.44H109.84M115.36,345.22V354.26M112.36,345.22H118.36M112.36,354.26H118.36M118.20,353.13V362.17M115.20,353.13H121.20M115.20,362.17H121.20M126.71,358.78V365.56M123.71,358.78H129.71M123.71,365.56H129.71M135.23,370.08V379.12M132.23,370.08H138.23M132.23,379.12H138.23M146.58,381.38V390.42M143.58,381.38H149.58M143.58,390.42H149.58M155.09,346.35V353.13M152.09,346.35H158.09M152.09,353.13H158.09M166.45,350.87V357.65M163.45,350.87H169.45M163.45,357.65H169.45M174.96,371.21V382.51M171.96,371.21H177.96M171.96,382.51H177.96M177.80,385.90V394.94M174.80,385.90H180.80M174.80,394.94H180.80M186.32,382.51V391.55M183.32,382.51H189.32M183.32,391.55H189.32M194.83,372.34V383.64M191.83,372.34H197.83M191.83,383.64H197.83M206.19,383.64V394.94M203.19,383.64H209.19M203.19,394.94H209.19M214.70,387.03V405.11M211.70,387.03H217.70M211.70,405.11H217.70M226.05,376.86V383.64M223.05,376.86H229.05M223.05,383.64H229.05M234.57,375.73V393.81M231.57,375.73H237.57M231.57,393.81H237.57M245.92,385.90V392.68M242.92,385.90H248.92M242.92,392.68H248.92M274.31,397.20V401.72M271.31,397.20H277.31M271.31,401.72H277.31M285.66,434.49V441.27M282.66,434.49H288.66M282.66,441.27H288.66M314.04,445.79V450.31M311.04,445.79H317.04M311.04,450.31H317.04M325.39,449.18V455.96M322.39,449.18H328.39M322.39,455.96H328.39M345.26,483.08V494.38M342.26,483.08H348.26M342.26,494.38H348.26M365.13,442.40V458.22M362.13,442.40H368.13M362.13,458.22H368.13" fill="none" stroke="#000" stroke-width="1.1"/>
<path d="M47.24,404.70 L51.04,411.92 L43.44,411.92 Z" fill="#000"/>
<path d="M55.75,402.44 L59.55,409.66 L51.95,409.66 Z" fill="#000"/>
<path d="M67.11,373.06 L70.91,380.28 L63.31,380.28 Z" fill="#000"/>
<path d="M75.62,359.50 L79.42,366.72 L71.82,366.72 Z" fill="#000"/>
<path d="M86.97,385.49 L90.77,392.71 L83.17,392.71 Z" fill="#000"/>
<path d="M98.33,327.86 L102.13,335.08 L94.53,335.08 Z" fill="#000"/>
<path d="M106.84,330.12 L110.64,337.34 L103.04,337.34 Z" fill="#000"/>
<path d="M115.36,345.94 L119.16,353.16 L111.56,353.16 Z" fill="#000"/>
<path d="M118.20,353.85 L122.00,361.07 L114.40,361.07 Z" fill="#000"/>
<path d="M126.71,358.37 L130.51,365.59 L122.91,365.59 Z" fill="#000"/>
<path d="M135.23,370.80 L139.03,378.02 L131.43,378.02 Z" fill="#000"/>
<path d="M146.58,382.10 L150.38,389.32 L142.78,389.32 Z" fill="#000"/>
<path d="M155.09,345.94 L158.90,353.16 L151.29,353.16 Z" fill="#000"/>
<path d="M166.45,350.46 L170.25,357.68 L162.65,357.68 Z" fill="#000"/>
<path d="M174.96,373.06 L178.76,380.28 L171.16,380.28 Z" fill="#000"/>
<path d="M177.80,386.62 L181.60,393.84 L174.00,393.84 Z" fill="#000"/>
<path d="M186.32,383.23 L190.12,390.45 L182.52,390.45 Z" fill="#000"/>
<path d="M194.83,374.19 L198.63,381.41 L191.03,381.41 Z" fill="#000"/>
<path d="M206.19,385.49 L209.99,392.71 L202.38,392.71 Z" fill="#000"/>
<path d="M214.70,392.27 L218.50,399.49 L210.90,399.49 Z" fill="#000"/>
<path d="M226.05,376.45 L229.85,383.67 L222.25,383.67 Z" fill="#000"/>
<path d="M234.57,380.97 L238.37,388.19 L230.77,388.19 Z" fill="#000"/>
<path d="M245.92,385.49 L249.72,392.71 L242.12,392.71 Z" fill="#000"/>
<path d="M274.31,395.66 L278.11,402.88 L270.50,402.88 Z" fill="#000"/>
<path d="M285.66,434.08 L289.46,441.30 L281.86,441.30 Z" fill="#000"/>
<path d="M314.04,444.25 L317.84,451.47 L310.24,451.47 Z" fill="#000"/>
<path d="M325.39,448.77 L329.19,455.99 L321.59,455.99 Z" fill="#000"/>
<path d="M345.26,484.93 L349.06,492.15 L341.46,492.15 Z" fill="#000"/>
<path d="M365.13,446.51 L368.93,453.73 L361.33,453.73 Z" fill="#000"/>
<path d="M47.24,406.24 C48.66,406.05 52.44,409.82 55.75,405.11 C59.06,400.40 63.80,385.34 67.11,377.99 C70.42,370.64 72.31,359.91 75.62,361.04 C78.93,362.17 83.19,390.80 86.97,384.77 C90.76,378.74 95.02,332.79 98.33,324.88 C101.64,316.97 104.00,333.92 106.84,337.31 C109.68,340.70 113.47,342.58 115.36,345.22 C117.25,347.86 116.30,350.68 118.20,353.13 C120.09,355.58 123.87,356.71 126.71,359.91 C129.55,363.11 131.92,368.76 135.23,372.34 C138.54,375.92 143.27,384.96 146.58,381.38 C149.89,377.80 151.78,355.20 155.09,350.87 C158.41,346.54 163.14,351.81 166.45,355.39 C169.76,358.97 173.07,367.07 174.96,372.34 C176.86,377.61 175.91,384.77 177.80,387.03 C179.69,389.29 183.48,386.84 186.32,385.90 C189.16,384.96 191.52,381.38 194.83,381.38 C198.14,381.38 202.87,384.39 206.19,385.90 C209.50,387.41 211.39,391.55 214.70,390.42 C218.01,389.29 222.74,379.68 226.05,379.12 C229.36,378.55 231.26,385.15 234.57,387.03 C237.88,388.91 239.30,388.16 245.92,390.42 C252.54,392.68 267.68,392.49 274.31,400.59 C280.93,408.69 279.04,430.91 285.66,439.01 C292.28,447.11 307.42,446.73 314.04,449.18 C320.66,451.63 320.19,447.67 325.39,453.70 C330.60,459.73 338.64,486.28 345.26,485.34 C351.89,484.40 361.82,454.26 365.13,448.05" fill="none" stroke="#000" stroke-width="1.7" stroke-dasharray="3,3"/>
<path d="M47.24,401.72V410.76M44.24,401.72H50.24M44.24,410.76H50.24M55.75,400.59V409.63M52.75,400.59H58.75M52.75,409.63H58.75M67.11,373.47V382.51M64.11,373.47H70.11M64.11,382.51H70.11M75.62,356.52V365.56M72.62,356.52H78.62M72.62,365.56H78.62M86.97,377.99V391.55M83.97,377.99H89.97M83.97,391.55H89.97M98.33,320.36V329.40M95.33,320.36H101.33M95.33,329.40H101.33M106.84,332.79V341.83M103.84,332.79H109.84M103.84,341.83H109.84M115.36,340.70V349.74M112.36,340.70H118.36M112.36,349.74H118.36M118.20,348.61V357.65M115.20,348.61H121.20M115.20,357.65H121.20M126.71,356.52V363.30M123.71,356.52H129.71M123.71,363.30H129.71M135.23,367.82V376.86M132.23,367.82H138.23M132.23,376.86H138.23M146.58,376.86V385.90M143.58,376.86H149.58M143.58,385.90H149.58M155.09,347.48V354.26M152.09,347.48H158.09M152.09,354.26H158.09M166.45,352.00V358.78M163.45,352.00H169.45M163.45,358.78H169.45M174.96,366.69V377.99M171.96,366.69H177.96M171.96,377.99H177.96M177.80,382.51V391.55M174.80,382.51H180.80M174.80,391.55H180.80M186.32,381.38V390.42M183.32,381.38H189.32M183.32,390.42H189.32M194.83,375.73V387.03M191.83,375.73H197.83M191.83,387.03H197.83M206.19,380.25V391.55M203.19,380.25H209.19M203.19,391.55H209.19M214.70,381.38V399.46M211.70,381.38H217.70M211.70,399.46H217.70M226.05,375.73V382.51M223.05,375.73H229.05M223.05,382.51H229.05M234.57,377.99V396.07M231.57,377.99H237.57M231.57,396.07H237.57M245.92,387.03V393.81M242.92,387.03H248.92M242.92,393.81H248.92M274.31,398.33V402.85M271.31,398.33H277.31M271.31,402.85H277.31M285.66,435.62V442.40M282.66,435.62H288.66M282.66,442.40H288.66M314.04,446.92V451.44M311.04,446.92H317.04M311.04,451.44H317.04M325.39,450.31V457.09M322.39,450.31H328.39M322.39,457.09H328.39M345.26,478.56V492.12M342.26,478.56H348.26M342.26,492.12H348.26M365.13,440.14V455.96M362.13,440.14H368.13M362.13,455.96H368.13" fill="none" stroke="#000" stroke-width="1.1"/>
<circle cx="47.24" cy="406.24" r="2.70" fill="none" stroke="#000" stroke-width="1.6"/>
<circle cx="55.75" cy="405.11" r="2.70" fill="none" stroke="#000" stroke-width="1.6"/>
<circle cx="67.11" cy="377.99" r="2.70" fill="none" stroke="#000" stroke-width="1.6"/>
<circle cx="75.62" cy="361.04" r="2.70" fill="none" stroke="#000" stroke-width="1.6"/>
<circle cx="86.97" cy="384.77" r="2.70" fill="none" stroke="#000" stroke-width="1.6"/>
<circle cx="98.33" cy="324.88" r="2.70" fill="none" stroke="#000" stroke-width="1.6"/>
<circle cx="106.84" cy="337.31" r="2.70" fill="none" stroke="#000" stroke-width="1.6"/>
<circle cx="115.36" cy="345.22" r="2.70" fill="none" stroke="#000" stroke-width="1.6"/>
<circle cx="118.20" cy="353.13" r="2.70" fill="none" stroke="#000" stroke-width="1.6"/>
<circle cx="126.71" cy="359.91" r="2.70" fill="none" stroke="#000" stroke-width="1.6"/>
<circle cx="135.23" cy="372.34" r="2.70" fill="none" stroke="#000" stroke-width="1.6"/>
<circle cx="146.58" cy="381.38" r="2.70" fill="none" stroke="#000" stroke-width="1.6"/>
<circle cx="155.09" cy="350.87" r="2.70" fill="none" stroke="#000" stroke-width="1.6"/>
<circle cx="166.45" cy="355.39" r="2.70" fill="none" stroke="#000" stroke-width="1.6"/>
<circle cx="174.96" cy="372.34" r="2.70" fill="none" stroke="#000" stroke-width="1.6"/>
<circle cx="177.80" cy="387.03" r="2.70" fill="none" stroke="#000" stroke-width="1.6"/>
<circle cx="186.32" cy="385.90" r="2.70" fill="none" stroke="#000" stroke-width="1.6"/>
<circle cx="194.83" cy="381.38" r="2.70" fill="none" stroke="#000" stroke-width="1.6"/>
<circle cx="206.19" cy="385.90" r="2.70" fill="none" stroke="#000" stroke-width="1.6"/>
<circle cx="214.70" cy="390.42" r="2.70" fill="none" stroke="#000" stroke-width="1.6"/>
<circle cx="226.05" cy="379.12" r="2.70" fill="none" stroke="#000" stroke-width="1.6"/>
<circle cx="234.57" cy="387.03" r="2.70" fill="none" stroke="#000" stroke-width="1.6"/>
<circle cx="245.92" cy="390.42" r="2.70" fill="none" stroke="#000" stroke-width="1.6"/>
<circle cx="274.31" cy="400.59" r="2.70" fill="none" stroke="#000" stroke-width="1.6"/>
<circle cx="285.66" cy="439.01" r="2.70" fill="none" stroke="#000" stroke-width="1.6"/>
<circle cx="314.04" cy="449.18" r="2.70" fill="none" stroke="#000" stroke-width="1.6"/>
<circle cx="325.39" cy="453.70" r="2.70" fill="none" stroke="#000" stroke-width="1.6"/>
<circle cx="345.26" cy="485.34" r="2.70" fill="none" stroke="#000" stroke-width="1.6"/>
<circle cx="365.13" cy="448.05" r="2.70" fill="none" stroke="#000" stroke-width="1.6"/>
<path d="M115.00,305.30V311.00M115.00,316.00V323.50" stroke="#000" stroke-width="1.8" fill="none"/>
<path d="M111.50,326.40 L118.50,326.40 L115.00,332.60 Z" fill="#000"/>
<path d="M172.40,325.80V331.40M172.40,336.00V343.30" stroke="#000" stroke-width="1.8" fill="none"/>
<path d="M168.90,347.20 L175.90,347.20 L172.40,353.40 Z" fill="#000"/>
<path d="M257.10,292.00H289.00" stroke="#000" stroke-width="1.3"/>
<path d="M273.05,288.25 L276.80,292.00 L273.05,295.75 L269.30,292.00 Z" fill="#000"/>
<text x="291.80" y="296.30" font-size="13.33">CK</text>
<path d="M257.10,310.00H260.10M262.60,310.00H265.80M280.40,310.00H283.40M285.80,310.00H289.00" stroke="#000" stroke-width="1.3" fill="none"/>
<rect x="269.85" y="306.80" width="6.40" height="6.40" fill="none" stroke="#000" stroke-width="1.6"/>
<text x="291.80" y="314.30" font-size="13.33">NBPT</text>
<path d="M257.10,328.00H289.00" stroke="#000" stroke-width="1.3"/>
<path d="M273.05,324.20 L276.85,331.42 L269.25,331.42 Z" fill="#000"/>
<text x="291.80" y="332.30" font-size="13.33">DCD</text>
<path d="M257.10,345.80H260.10M262.60,345.80H265.80M280.40,345.80H283.40M285.80,345.80H289.00" stroke="#000" stroke-width="1.3" fill="none"/>
<circle cx="273.05" cy="345.80" r="2.70" fill="none" stroke="#000" stroke-width="1.6"/>
<text x="291.80" y="350.10" font-size="13.33">NBPT+DCD</text>
<text x="214.9" y="534.5" text-anchor="middle" font-size="13.55">Days after sowing (d)</text>
<text transform="translate(9.8,384.9) rotate(-90)" text-anchor="middle" font-size="13.33">Soil temperature (°C)</text>
<text x="0" y="267.6" font-size="20" font-weight="bold">b</text>
</svg>
</body></html>
